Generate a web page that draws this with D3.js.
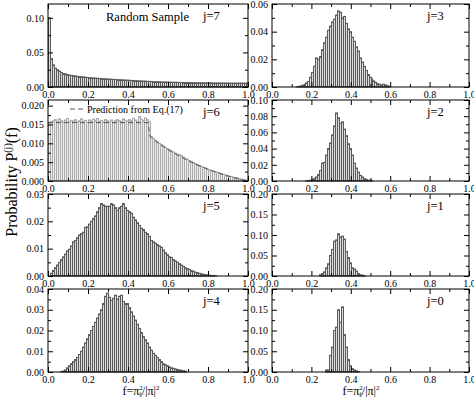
<!DOCTYPE html>
<html><head><meta charset="utf-8">
<script src="https://cdn.jsdelivr.net/npm/d3@7"></script>
<style>
html,body{margin:0;padding:0;background:#fff;}
svg{display:block;font-family:"Liberation Serif","Times New Roman",serif;}
</style></head>
<body>
<svg id="chart" width="474" height="397"></svg>
<script>
// ---------- DATA (bin width 0.01; each array starts at the given f) ----------
const binWidth = 0.01;

const j7Start = 0.00;
const j7 = [0.100,0.041,0.032,0.027,0.025,0.023,0.021,0.0195,0.019,0.018,
0.0172,0.0168,0.0163,0.0158,0.0155,0.0150,0.0148,0.0145,0.0142,0.0138,
0.0134,0.0133,0.0130,0.0128,0.0126,0.0124,0.0121,0.0119,0.0117,0.0116,
0.0114,0.0112,0.0110,0.0109,0.0107,0.0106,0.0103,0.0102,0.0100,0.0099,
0.0097,0.0095,0.0093,0.0091,0.0090,0.0088,0.0087,0.0085,0.0084,0.0082,
0.0081,0.0080,0.0078,0.0077,0.0076,0.0075,0.0074,0.0073,0.0072,0.0071,
0.0070,0.0069,0.0069,0.0068,0.0067,0.0066,0.0066,0.0065,0.0064,0.0064,
0.0063,0.0063,0.0062,0.0062,0.0061,0.0061,0.0060,0.0060,0.0060,0.0059,
0.0059,0.0059,0.0058,0.0058,0.0058,0.0058,0.0057,0.0057,0.0057,0.0057,
0.0057,0.0056,0.0056,0.0056,0.0056,0.0056,0.0056,0.0055,0.0056,0.0057];

const j6Start = 0.00;
const j6 = [0.0155,0.0158,0.0160,0.0163,0.0158,0.0165,0.0160,0.0157,0.0162,0.0166,
0.0158,0.0161,0.0159,0.0163,0.0157,0.0160,0.0165,0.0158,0.0161,0.0156,
0.0162,0.0159,0.0164,0.0160,0.0166,0.0158,0.0161,0.0157,0.0163,0.0160,
0.0158,0.0162,0.0156,0.0161,0.0163,0.0160,0.0158,0.0165,0.0161,0.0159,
0.0163,0.0160,0.0166,0.0162,0.0158,0.0171,0.0164,0.0160,0.0167,0.0163,
0.0158,0.0118,0.0113,0.0108,0.0104,0.0100,0.0097,0.0093,0.0089,0.0086,
0.0083,0.0080,0.0077,0.0074,0.0071,0.0070,0.0068,0.0064,0.0060,0.0058,
0.0054,0.0052,0.0049,0.0046,0.0043,0.0041,0.0039,0.0036,0.0035,0.0032,
0.0030,0.0028,0.0026,0.0025,0.0023,0.0021,0.0019,0.0018,0.0016,0.0015,
0.0013,0.0012,0.0010,0.0009,0.0008,0.0006,0.0005,0.0004,0.0003,0.0001];

const predF = [0.00,0.50,0.51,0.55,0.60,0.65,0.70,0.75,0.80,0.85,0.90,0.95,1.00];
const predP = [0.0155,0.0155,0.0118,0.0101,0.0083,0.0068,0.0054,0.0042,0.0031,0.0022,0.0013,0.0006,0.0];

const j5Start = 0.01;
const j5 = [0.001,0.002,0.003,0.004,0.005,0.006,0.007,0.008,0.0092,0.0098,
0.011,0.0125,0.013,0.014,0.015,0.0155,0.016,0.0178,0.018,0.019,
0.020,0.021,0.022,0.0235,0.025,0.0265,0.026,0.0255,0.0255,0.0255,
0.0265,0.026,0.025,0.024,0.025,0.0255,0.0265,0.025,0.024,0.0235,
0.023,0.0215,0.0205,0.0195,0.0185,0.0175,0.017,0.016,0.0155,0.0145,
0.013,0.0125,0.012,0.0115,0.011,0.0105,0.0095,0.0085,0.0078,0.007,
0.0068,0.006,0.0055,0.005,0.0045,0.004,0.0035,0.003,0.0027,0.0024,
0.002,0.0017,0.0014,0.0012,0.001,0.0008,0.0006,0.0005,0.0004,0.0003,
0.0002,0.0002,0.0001];

const j4Start = 0.06;
const j4 = [0.0002,0.0005,0.001,0.002,0.003,0.004,0.005,0.006,0.007,0.0085,
0.010,0.012,0.014,0.016,0.018,0.020,0.022,0.024,0.026,0.028,
0.030,0.033,0.0365,0.038,0.036,0.0345,0.0355,0.037,0.035,0.0365,
0.037,0.034,0.033,0.033,0.031,0.029,0.027,0.025,0.023,0.021,
0.019,0.017,0.0155,0.014,0.012,0.0105,0.009,0.008,0.007,0.006,
0.005,0.004,0.0035,0.003,0.0025,0.002,0.0018,0.0015,0.0012,0.001,
0.0008,0.0006,0.0004];

const j3Start = 0.12;
const j3 = [0.0003,0.0005,0.001,0.0015,0.002,0.003,0.004,0.007,0.0105,0.015,
0.021,0.020,0.022,0.027,0.032,0.036,0.041,0.044,0.047,0.049,
0.052,0.055,0.054,0.050,0.051,0.046,0.042,0.040,0.036,0.033,
0.029,0.026,0.021,0.018,0.015,0.012,0.009,0.007,0.006,0.0045,
0.0035,0.0025,0.002,0.0015,0.002,0.0015,0.001,0.0005];

const j2Start = 0.17;
const j2 = [0.0003,0.0005,0.001,0.002,0.003,0.005,0.008,0.013,0.022,0.023,
0.032,0.040,0.047,0.057,0.068,0.084,0.078,0.071,0.073,0.064,
0.056,0.046,0.040,0.032,0.022,0.016,0.011,0.007,0.005,0.003,
0.002,0.001,0.001,0.0005];

const j1Start = 0.24;
const j1 = [0.003,0.006,0.010,0.020,0.030,0.050,0.065,0.085,0.088,0.103,
0.095,0.097,0.090,0.060,0.045,0.032,0.020,0.017,0.012,0.006,
0.003,0.002,0.001];

const j0Start = 0.27;
const j0 = [0.005,0.005,0.040,0.060,0.100,0.108,0.150,0.120,0.157,0.090,
0.060,0.030,0.015,0.008,0.005,0.003,0.001];

const xTicks = [0,0.2,0.4,0.6,0.8,1.0];
const xTickLabels = ["0.0","0.2","0.4","0.6","0.8","1.0"];
const yTicksJ7 = [0,0.05,0.10];
const yTicksJ6 = [0,0.005,0.010,0.015,0.020];
const yTicksJ5 = [0,0.01,0.02,0.03];
const yTicksJ4 = [0,0.01,0.02,0.03,0.04];
const yTicksJ3 = [0,0.02,0.04,0.06];
const yTicksJ2 = [0,0.02,0.04,0.06,0.08,0.10];
const yTicksJ1 = [0,0.05,0.10,0.15,0.20];
const yTicksJ0 = [0,0.05,0.10,0.15,0.20];
const yMaxes = {j7:0.12, j6:0.0215, j5:0.03, j4:0.04, j3:0.06, j2:0.10, j1:0.20, j0:0.20};
const panelLabels = ["j=7","j=6","j=5","j=4","j=3","j=2","j=1","j=0"];

// ---------- LAYOUT ----------
const cols = [[48,248],[272,469]];
const rows = [[4,87],[100,181],[194,276],[289,372]];

const darkFill = "#dcdcdc", darkStroke = "#5a5a5a";
const panels = [
  {col:0,row:0,data:j7,start:j7Start,ymax:yMaxes.j7,ticks:yTicksJ7,fmt:".2f",label:panelLabels[0],fill:darkFill,stroke:darkStroke},
  {col:0,row:1,data:j6,start:j6Start,ymax:yMaxes.j6,ticks:yTicksJ6,fmt:".3f",label:panelLabels[1],fill:"#eeeeee",stroke:"#ababab",pred:true},
  {col:0,row:2,data:j5,start:j5Start,ymax:yMaxes.j5,ticks:yTicksJ5,fmt:".2f",label:panelLabels[2],fill:darkFill,stroke:darkStroke},
  {col:0,row:3,data:j4,start:j4Start,ymax:yMaxes.j4,ticks:yTicksJ4,fmt:".2f",label:panelLabels[3],fill:darkFill,stroke:darkStroke},
  {col:1,row:0,data:j3,start:j3Start,ymax:yMaxes.j3,ticks:yTicksJ3,fmt:".2f",label:panelLabels[4],fill:darkFill,stroke:darkStroke},
  {col:1,row:1,data:j2,start:j2Start,ymax:yMaxes.j2,ticks:yTicksJ2,fmt:".2f",label:panelLabels[5],fill:darkFill,stroke:darkStroke},
  {col:1,row:2,data:j1,start:j1Start,ymax:yMaxes.j1,ticks:yTicksJ1,fmt:".2f",label:panelLabels[6],fill:darkFill,stroke:darkStroke},
  {col:1,row:3,data:j0,start:j0Start,ymax:yMaxes.j0,ticks:yTicksJ0,fmt:".2f",label:panelLabels[7],fill:darkFill,stroke:darkStroke}
];

const svg = d3.select("#chart");
const majorLen = 5, minorLen = 3;

function mids(arr){ const m=[]; for(let i=0;i<arr.length-1;i++) m.push((arr[i]+arr[i+1])/2); return m; }

panels.forEach(p=>{
  const [x0,x1] = cols[p.col], [y0,y1] = rows[p.row];
  const x = d3.scaleLinear().domain([0,1]).range([x0,x1]);
  const y = d3.scaleLinear().domain([0,p.ymax]).range([y1,y0]);
  const g = svg.append("g");

  // bars
  g.selectAll("rect.bar").data(p.data).join("rect").attr("class","bar")
    .attr("x",(d,i)=>Math.round(x(p.start+i*binWidth))+0.5)
    .attr("width",(d,i)=>Math.round(x(p.start+(i+1)*binWidth))-Math.round(x(p.start+i*binWidth)))
    .attr("y",d=>y(d))
    .attr("height",d=>y(0)-y(d))
    .attr("fill",p.fill).attr("stroke",p.stroke).attr("stroke-width",1);

  if(p.pred){
    const line = d3.line().x(d=>x(d[0])).y(d=>y(d[1]));
    g.append("path").datum(predF.map((f,i)=>[f,predP[i]]))
      .attr("d",line).attr("fill","none").attr("stroke","#555")
      .attr("stroke-width",1).attr("stroke-dasharray","5,3");
    g.append("line").attr("x1",70).attr("x2",83).attr("y1",109).attr("y2",109)
      .attr("stroke","#555").attr("stroke-width",1).attr("stroke-dasharray","5,3");
    g.append("text").attr("x",87).attr("y",112.5).attr("font-size",10).text("Prediction from Eq.(17)");
  }

  const fmt = d3.format(p.fmt);
  const xMinor = mids(xTicks), yMinor = mids(p.ticks);
  const clean = s=>s.select(".domain").remove();

  // bottom (labels)
  g.append("g").attr("transform",`translate(0,${y1})`)
    .call(d3.axisBottom(x).tickValues(xTicks).tickFormat((d,i)=>xTickLabels[i]).tickSizeInner(-majorLen).tickSizeOuter(0).tickPadding(4))
    .call(clean).call(s=>s.selectAll("text").attr("font-size",10).attr("font-family","Liberation Serif").attr("fill","#000"));
  g.append("g").attr("transform",`translate(0,${y1})`)
    .call(d3.axisBottom(x).tickValues(xMinor).tickFormat("").tickSizeInner(-minorLen).tickSizeOuter(0)).call(clean);
  // top
  g.append("g").attr("transform",`translate(0,${y0})`)
    .call(d3.axisTop(x).tickValues(xTicks).tickFormat("").tickSizeInner(-majorLen).tickSizeOuter(0)).call(clean);
  g.append("g").attr("transform",`translate(0,${y0})`)
    .call(d3.axisTop(x).tickValues(xMinor).tickFormat("").tickSizeInner(-minorLen).tickSizeOuter(0)).call(clean);
  // left (labels)
  g.append("g").attr("transform",`translate(${x0},0)`)
    .call(d3.axisLeft(y).tickValues(p.ticks).tickFormat(fmt).tickSizeInner(-majorLen).tickSizeOuter(0).tickPadding(4))
    .call(clean).call(s=>s.selectAll("text").attr("font-size",10).attr("font-family","Liberation Serif").attr("fill","#000"));
  g.append("g").attr("transform",`translate(${x0},0)`)
    .call(d3.axisLeft(y).tickValues(yMinor).tickFormat("").tickSizeInner(-minorLen).tickSizeOuter(0)).call(clean);
  // right
  g.append("g").attr("transform",`translate(${x1},0)`)
    .call(d3.axisRight(y).tickValues(p.ticks).tickFormat("").tickSizeInner(-majorLen).tickSizeOuter(0)).call(clean);
  g.append("g").attr("transform",`translate(${x1},0)`)
    .call(d3.axisRight(y).tickValues(yMinor).tickFormat("").tickSizeInner(-minorLen).tickSizeOuter(0)).call(clean);

  // frame
  g.append("rect").attr("x",x0).attr("y",y0).attr("width",x1-x0).attr("height",y1-y0)
    .attr("fill","none").attr("stroke","#000").attr("stroke-width",1);

  // panel label
  g.append("text").attr("x",x0+155).attr("y",y0+16).attr("font-size",12.5).text(p.label);
  if(p.col===0 && p.row===0){
    g.append("text").attr("x",106).attr("y",y0+17).attr("font-size",12.5).text("Random Sample");
  }
});

// y axis title
const yt = svg.append("text").attr("transform","translate(17,182) rotate(-90)")
  .attr("text-anchor","middle").attr("font-size",16);
yt.append("tspan").text("Probability P");
yt.append("tspan").attr("font-size",10).attr("dy",-6).text("(j)");
yt.append("tspan").attr("dy",6).text("(f)");

// x axis titles
[141,361].forEach(cx=>{
  const t = svg.append("text").attr("x",cx).attr("y",395).attr("text-anchor","middle").attr("font-size",12);
  t.append("tspan").text("f=π");
  t.append("tspan").attr("font-size",7).attr("dy",-5).text("2");
  t.append("tspan").attr("font-size",6).attr("dx",-4).attr("dy",7).text("∥");
  t.append("tspan").attr("dy",-2).text("/|π|");
  t.append("tspan").attr("font-size",7).attr("dy",-5).text("2");
});
</script>
</body></html>
